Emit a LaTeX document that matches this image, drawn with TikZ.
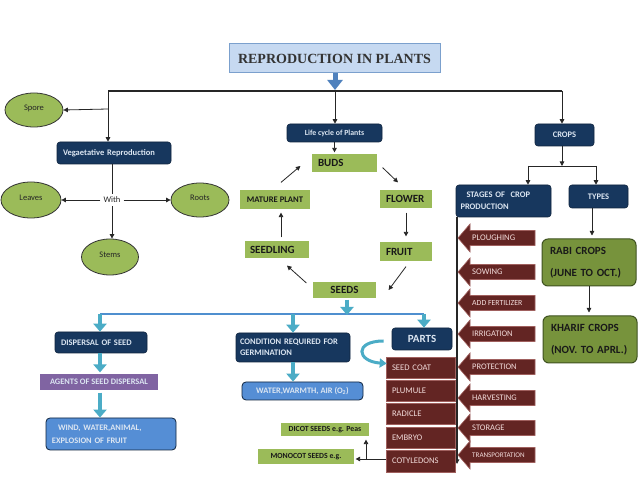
\documentclass[tikz,border=0pt]{standalone}
\usepackage{fontspec}
\setmainfont{Carlito}
\newfontfamily\titlefont{Liberation Serif}
\usetikzlibrary{arrows.meta,shadows,shapes.geometric,calc}
\definecolor{cNavy}{HTML}{17375E}
\definecolor{cNavyD}{HTML}{0F243E}
\definecolor{cNavyT}{HTML}{DCE6F2}
\definecolor{cGreen}{HTML}{9BBB59}
\definecolor{cOlive}{HTML}{77933C}
\definecolor{cOliveD}{HTML}{3F5220}
\definecolor{cMaroon}{HTML}{632523}
\definecolor{cMaroonL}{HTML}{A0605E}
\definecolor{cPink}{HTML}{F2DCDB}
\definecolor{cBlueBox}{HTML}{558ED5}
\definecolor{cPurple}{HTML}{8064A2}
\definecolor{cTeal}{HTML}{4BACC6}
\definecolor{cTitle}{HTML}{C6D9F1}
\definecolor{cTitleB}{HTML}{7BA0CD}
\definecolor{cBlueLn}{HTML}{4F8FCF}
\definecolor{cTitleArr}{HTML}{4F81BD}
\tikzset{
  arr/.style={-{Triangle[length=4.5pt,width=4.5pt]}, line width=0.8pt, black!85},
  plainln/.style={line width=0.8pt, black!85},
  navybox/.style={fill=cNavy, draw=cNavyD, line width=0.6pt, rounded corners=3pt, text=cNavyT,
    font=\fontsize{8.5}{11}\selectfont\bfseries, inner sep=0pt, align=left},
  bluebox/.style={fill=cBlueBox, draw=cNavyD, line width=0.8pt, rounded corners=4pt, text=cNavyT,
    font=\fontsize{8.4}{13}\selectfont\bfseries, inner sep=0pt},
  ellnode/.style={ellipse, fill=cGreen, draw=black!80, line width=0.8pt, inner sep=0pt,
    font=\fontsize{8.5}{9}\selectfont, text=black!85},
  lgbox/.style={fill=cGreen, draw=white, line width=1.2pt,
    drop shadow={shadow xshift=1.3pt, shadow yshift=-1.3pt, fill=black!30},
    inner sep=0pt, text=black!90},
  olivebox/.style={fill=cOlive, draw=cOliveD, line width=1pt, rounded corners=6pt, inner sep=0pt,
    text=black!90, font=\fontsize{11}{22}\selectfont\bfseries, align=left},
  partbox/.style={fill=cMaroon, draw=cMaroonL, line width=0.6pt, inner sep=0pt, text=cPink,
    font=\fontsize{8.6}{10}\selectfont, minimum width=69pt, text width=57pt, align=left},
  tealarr/.style={cTeal, line width=4.5pt, -{Triangle[length=8pt,width=13pt]}},
  bluehline/.style={cBlueLn, line width=2.2pt},
}
\begin{document}
\begin{tikzpicture}[x=1pt,y=-1pt]
\path[use as bounding box, fill=white] (0,0) rectangle (638,478);

% ---------- title ----------
\node[fill=cTitle, draw=cTitleB, line width=1pt, minimum width=211pt, minimum height=29pt, inner sep=0pt,
      font=\titlefont\bfseries\fontsize{14}{16}\selectfont, text=black!80] (title) at (334.5,58.5) {REPRODUCTION IN PLANTS};

\coordinate (hL) at (108,91);
\coordinate (hM) at (335,91);
\coordinate (hR) at (562,91);
\coordinate (spj) at (108,109);
\draw[plainln, line width=1.4pt] (hL) -- (hR);
\draw[cTitleArr, line width=5pt, -{Triangle[length=10pt,width=15pt]}] (title.south -| hM) -- ([yshift=1pt]hM);

% ---------- left: vegetative ----------
\node[ellnode, minimum width=58pt, minimum height=34pt] (spore) at (34,110) {\raisebox{5pt}{Spore}};
\node[navybox, minimum width=114pt, minimum height=22pt, text width=102pt] (veg) at (114,153) {Vegaetative Reproduction};
\node[ellnode, minimum width=60pt, minimum height=36pt] (leaves) at (31,200) {\raisebox{4pt}{Leaves}};
\node[ellnode, minimum width=58pt, minimum height=34pt] (roots) at (200,200) {\raisebox{4pt}{Roots}};
\node[ellnode, minimum width=57pt, minimum height=36pt] (stems) at (110,257) {\raisebox{4pt}{Stems}};
\node[font=\fontsize{8.5}{9}\selectfont, text=black!85, inner sep=3pt] (with) at (112,200) {With};

\draw[arr] (hL) -- (hL |- veg.north);
\draw[arr] (spj) -- (spore.east);
\draw[plainln] (veg.south -| with) -- (with.north);
\draw[arr] (with.west) -- (leaves.east);
\draw[arr] (with.east) -- (roots.west);
\draw[arr] (with.south) -- (with.south |- stems.north);

% ---------- middle: life cycle ----------
\node[navybox, minimum width=95pt, minimum height=18pt, align=center, font=\fontsize{7.8}{9}\selectfont\bfseries] (life) at (334.5,133) {Life cycle of Plants};
\node[lgbox, minimum width=67pt, minimum height=20pt, text width=53pt, align=left, font=\fontsize{11}{12}\selectfont\bfseries] (buds) at (344.5,163) {BUDS};
\node[lgbox, minimum width=54pt, minimum height=20pt, text width=40pt, align=left, font=\fontsize{11}{12}\selectfont\bfseries] (flower) at (406,199) {FLOWER};
\node[lgbox, minimum width=54pt, minimum height=21pt, text width=40pt, align=left, font=\fontsize{11}{12}\selectfont\bfseries] (fruit) at (406,251.5) {FRUIT};
\node[lgbox, minimum width=65pt, minimum height=18pt, font=\fontsize{11}{12}\selectfont\bfseries] (seeds) at (344.5,290) {SEEDS};
\node[lgbox, minimum width=66pt, minimum height=19pt, text width=54pt, align=left, font=\fontsize{11}{12}\selectfont\bfseries] (seedling) at (277,249.5) {SEEDLING};
\node[lgbox, minimum width=72pt, minimum height=21pt, font=\fontsize{8.6}{10}\selectfont\bfseries] (mature) at (275,199.5) {MATURE PLANT};

\draw[arr] (hM) -- (hM |- life.north);
\draw[arr] (life.south) -- (life.south |- buds.north);
\draw[arr] ([xshift=4pt,yshift=6pt]buds.south east) -- ([xshift=-8pt,yshift=6pt]flower.north);
\draw[arr] ([yshift=-3pt]flower.south) -- ([yshift=4pt]fruit.north);
\draw[arr] ([yshift=-4pt]fruit.south) -- ([xshift=11pt]seeds.east);
\draw[arr] ([xshift=-5pt,yshift=7pt]seeds.west) -- ([xshift=10pt,yshift=-6pt]seedling.south);
\draw[arr] ([xshift=4pt,yshift=2pt]seedling.north) -- ([xshift=6pt,yshift=-2pt]mature.south);
\draw[arr] ([xshift=6pt,yshift=6pt]mature.north) -- ([xshift=-10pt,yshift=-3pt]buds.west);

% ---------- right: crops ----------
\node[navybox, minimum width=59pt, minimum height=22pt, align=center] (crops) at (564.5,135) {CROPS};
\node[navybox, minimum width=95pt, minimum height=32pt, text width=86pt, font=\fontsize{8.5}{12}\selectfont\bfseries] (stages) at (503.5,201) {\hspace*{6pt}STAGES OF\ \ CROP\\PRODUCTION};
\node[navybox, minimum width=59pt, minimum height=23pt, align=center] (types) at (598.5,196.5) {TYPES};
\node[olivebox, minimum width=94pt, minimum height=47pt, text width=78pt] (rabi) at (589,262.5) {RABI CROPS\\(JUNE TO OCT.)};
\node[olivebox, minimum width=94pt, minimum height=47pt, text width=78pt] (kharif) at (590,339.5) {KHARIF CROPS\\(NOV. TO APRL.)};

\coordinate (cj) at (562,166);
\coordinate (cjl) at (528,166);
\coordinate (cjr) at (596,166);
\draw[arr] (hR) -- (hR |- crops.north);
\draw[arr] (crops.south -| cj) -- (cj);
\draw[plainln] (cjl) -- (cjr);
\draw[arr] (cjl) -- (cjl |- stages.north);
\draw[arr] (cjr) -- (cjr |- types.north);
\draw[arr] ([xshift=-6.5pt]types.south) -- ([xshift=-6.5pt,yshift=3pt]types.south |- rabi.north);
\draw[arr] (rabi.south) -- ([yshift=3pt]rabi.south |- kharif.north);

\coordinate (send) at (457,464);
\draw[arr, line width=1.2pt] (stages.south west -| send) -- (send);

\foreach \y/\t/\f [count=\i] in {238/PLOUGHING/8.6, 272/SOWING/8.6, 303/ADD FERTILIZER/7.8,
    334/IRRIGATION/8.5, 367/PROTECTION/8.5, 398/HARVESTING/8.5, 428/STORAGE/8.5, 455/TRANSPORTATION/7.1} {
  \filldraw[fill=cMaroon, draw=cMaroonL, line width=0.6pt]
     (458,\y) -- (470,\y-14) -- (470,\y-7.5) -- (535,\y-7.5) -- (535,\y+7.5) -- (470,\y+7.5) -- (470,\y+14) -- cycle;
  \node[anchor=west, text=cPink, inner sep=0pt, font=\fontsize{\f}{\f}\selectfont] (stage\i) at (472,\y) {\t};
}

% ---------- bottom ----------
\coordinate (bl) at (100,314);
\coordinate (bc) at (293,314);
\coordinate (bs) at (347,314);
\coordinate (br) at (424,314);
\draw[bluehline] (bl) -- (br);
\draw[tealarr] (seeds.south -| bs) -- ([yshift=-1pt]bs);

\node[navybox, minimum width=92pt, minimum height=21pt, text width=80pt] (dispersal) at (101,342.5) {DISPERSAL OF SEED};
\node[fill=cPurple, draw=white, line width=1.2pt, drop shadow={shadow xshift=1.3pt, shadow yshift=-1.3pt, fill=black!30},
      minimum width=120pt, minimum height=18pt, inner sep=0pt, text=cNavyT, font=\fontsize{8.4}{10}\selectfont\bfseries] (agents) at (99,382) {AGENTS OF SEED DISPERSAL};
\node[bluebox, minimum width=130pt, minimum height=32pt, text width=118pt, align=left] (wind) at (111,434) {\hspace*{6pt}WIND, WATER,ANIMAL,\\EXPLOSION OF FRUIT};

\node[navybox, minimum width=114pt, minimum height=29pt, text width=106pt] (condition) at (293,347.5) {CONDITION REQUIRED FOR\\GERMINATION};
\node[bluebox, minimum width=121pt, minimum height=18pt] (water) at (302.5,391) {WATER,WARMTH, AIR (O\textsubscript{2})};

\node[navybox, minimum width=60pt, minimum height=22pt, align=center, font=\fontsize{11}{12}\selectfont\bfseries] (parts) at (422,339) {PARTS};
\node[partbox, minimum height=21pt] (seedcoat) at (420.5,367.5) {SEED COAT};
\node[partbox, minimum height=21pt] (plumule) at (420.5,390.5) {PLUMULE};
\node[partbox, minimum height=21pt] (radicle) at (420.5,413.5) {RADICLE};
\node[partbox, minimum height=21pt] (embryo) at (420.5,437.5) {EMBRYO};
\node[partbox, minimum height=22pt] (cotyledons) at (420.5,461) {COTYLEDONS};

\node[lgbox, minimum width=90pt, minimum height=15pt, font=\fontsize{7.8}{9}\selectfont\bfseries] (dicot) at (325,429.5) {DICOT SEEDS e.g. Peas};
\node[lgbox, minimum width=98pt, minimum height=17pt, font=\fontsize{7.8}{9}\selectfont\bfseries] (monocot) at (306,456.5) {MONOCOT SEEDS e.g.};

\draw[tealarr] (bl) -- (bl |- dispersal.north);
\draw[tealarr] (bc) -- (bc |- condition.north);
\draw[tealarr] (br) -- (br |- parts.north);
\draw[tealarr] (dispersal.south -| bl) -- (bl |- agents.north);
\draw[tealarr] ([yshift=-1pt]agents.south -| bl) -- (bl |- wind.north);
\draw[tealarr] (condition.south) -- (condition.south |- water.north);

\draw[cTeal, line width=3pt, -{Triangle[length=7pt,width=9pt]}]
  ([xshift=-8pt,yshift=-2pt]parts.west) .. controls +(-30,0) and +(-30,-2) .. ([xshift=1pt,yshift=4pt]seedcoat.west);

\coordinate (dj) at (366,459);
\draw[arr] (cotyledons.west |- dj) -- (monocot.east |- dj);
\draw[arr] (dj) -- ([yshift=-2pt]dj |- dicot.south);
\end{tikzpicture}
\end{document}
